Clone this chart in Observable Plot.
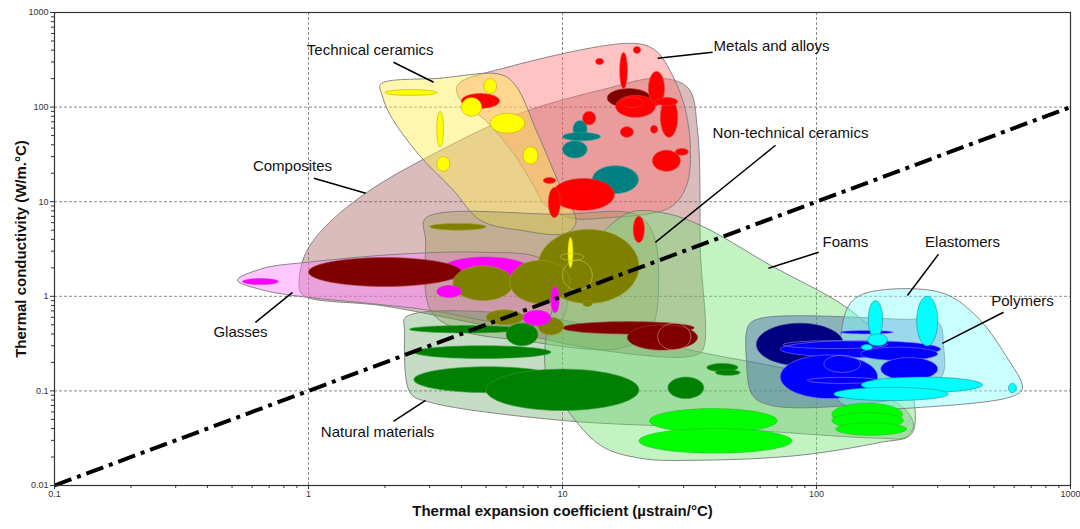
<!DOCTYPE html>
<html><head><meta charset="utf-8">
<script src="https://cdn.jsdelivr.net/npm/d3@7"></script>
<script src="https://cdn.jsdelivr.net/npm/@observablehq/plot@0.6"></script>
<style>body{margin:0;background:#fff;}</style>
</head><body><div id="chart"></div>
<script>
// ---------- Axis ticks ----------
const xTickValues = [0.1, 1, 10, 100, 1000];
const xTickLabels = ["0.1", "1", "10", "100", "1000"];
const yTickValues = [0.01, 0.1, 1, 10, 100, 1000];
const yTickLabels = ["0.01", "0.1", "1", "10", "100", "1000"];
const xGrid = [1, 10, 100];
const yGrid = [0.1, 1, 10, 100];

// ---------- Guide line (k / alpha = 0.1) ----------
const guideX = [0.1, 1000];
const guideY = [0.01, 100];

// ---------- Family envelopes: [expansion, conductivity] ----------
const compositesEnvelope = [[0.93,1.10],[0.95,2.40],[1.11,4.75],[1.68,12.3],[3.31,34.9],[6.83,86],[14.1,151],[24.3,202],[31.3,158],[34.0,56.9],[34.9,3.06],[35.6,0.27],[31.9,0.232],[14.1,0.27],[4.34,0.53],[1.92,0.80],[1.02,0.95]];
const techCeramicsEnvelope = [[1.92,174],[3.31,202],[5.70,222],[6.53,170],[7.97,52.8],[9.83,14.2],[11.3,6.06],[10.3,4.63],[6.83,4.99],[4.75,6.36],[3.72,13.2],[2.69,32.5],[2.10,81.9],[1.95,133]];
const metalsEnvelope = [[3.86,170],[6.07,264],[19.0,472],[23.2,398],[27.1,217],[30.5,92.5],[31.9,34.9],[30.8,14.9],[26.6,8.73],[14.1,6.68],[11.0,6.68],[8.73,8.73],[7.48,16.8],[6.41,32.5],[4.97,72.5],[3.97,118]];
const glassesEnvelope = [[0.525,1.48],[0.665,1.98],[0.99,2.29],[2.24,2.78],[4.75,2.92],[8.19,2.52],[10.3,1.31],[9.83,0.557],[6.83,0.49],[3.02,0.71],[1.60,0.86],[0.99,0.976],[0.665,1.16]];
const nonTechCeramicsEnvelope = [[2.89,6.68],[9.83,7.36],[19.4,7.36],[22.6,4.75],[23.9,1.48],[22.2,0.437],[16.9,0.282],[6.83,0.343],[3.97,0.437],[3.02,0.71],[2.89,3.91]];
const naturalEnvelope = [[2.41,0.60],[7.48,0.63],[34.9,0.256],[86.5,0.157],[214,0.0705],[241,0.0433],[224,0.0323],[179,0.0316],[41.9,0.0402],[9.83,0.0489],[3.02,0.0757],[2.52,0.0944],[2.39,0.437]];
const foamsEnvelope = [[18.5,7.73],[25.4,7.54],[34.9,5.63],[65.9,2.13],[136,0.71],[214,0.21],[245,0.055],[234,0.034],[179,0.0286],[86.5,0.0209],[34.9,0.0185],[20.3,0.0194],[14.1,0.0266],[9.83,0.0796],[8.57,0.165],[9.38,0.907],[13.5,3.91]];
const polymersEnvelope = [[54,0.49],[60.2,0.585],[214,0.571],[302,0.53],[316,0.303],[313,0.146],[257,0.0966],[136,0.0705],[65.9,0.0705],[56,0.0898],[53,0.21]];
const elastomersEnvelope = [[134,0.80],[156,1.08],[308,1.10],[423,0.63],[555,0.238],[647,0.106],[591,0.0877],[257,0.067],[149,0.0655],[122,0.0796],[124,0.343]];

// ---------- Material ellipses: [xmin, xmax, ymin, ymax] ----------
const glassesBack = [[0.55,0.76,1.33,1.54],[3.3,7.5,1.36,2.6]];
const compositesEllipses = [[1.0,4.0,1.27,2.57],[10,33,0.40,0.54],[18,34,0.27,0.50]];
const nonTechCeramicsEllipses = [[3.0,5.0,5.0,5.9],[8.0,20,0.84,5.1],[3.7,6.4,0.9,2.1],[6.2,10.7,0.84,2.4],[12,13.1,0.78,0.9],[5.0,7.0,0.5,0.72],[8.0,10.1,0.39,0.6]];
const glassesFront = [[3.2,4.0,0.97,1.3],[9.0,9.7,0.67,1.27],[7.0,9.0,0.49,0.71]];
const metalsTeal = [[11,12.5,48,72],[10,12.5,29,44],[10,14.1,44,54],[13.1,19.9,12.2,24]];
const metalsDark = [[15,22.2,99,157]];
const metalsRed = [[13.5,14.5,282,327],[19,20.3,369,437],[16.8,18,157,378],[21.8,25.2,104,238],[16.2,23.2,78,133],[17,20.8,99,126],[24.3,28.4,48,126],[23.2,28.4,104,126],[12,13.5,65,90],[16.9,19,48,62],[22.2,23.7,53,64],[22.6,29.1,21,35],[27.8,31.3,31,36.5],[9.1,16,8.1,17.6],[8.8,9.8,6.8,14.1],[8.4,9.4,15.6,18],[4.0,5.65,97,139],[19,21,3.7,7.0]];
const techCeramicsEllipses = [[2.0,3.2,133,153],[3.2,3.4,38,90],[3.2,3.6,21,30],[4.0,4.8,80,126],[4.9,5.5,139,200],[5.2,7.1,53,86],[7.0,8.0,25,38],[10.5,11,2.0,4.2]];
const naturalEllipses = [[2.5,7.0,0.41,0.49],[6.0,8.0,0.30,0.52],[2.6,9.0,0.22,0.30],[2.6,10,0.096,0.18],[5.0,20,0.062,0.17],[26,36,0.083,0.14],[37,49,0.16,0.195],[40,50,0.146,0.167]];
const foamsEllipses = [[22,70,0.036,0.065],[20,80,0.022,0.040],[115,218,0.043,0.074],[115,220,0.040,0.059],[119,226,0.034,0.046]];
const polymersNavy = [[58,128,0.185,0.52]];
const polymersBlue = [[72,308,0.225,0.34],[149,300,0.21,0.29],[72,174,0.083,0.24],[179,300,0.13,0.225],[124,200,0.40,0.435]];
const elastomersEllipses = [[160,182,0.36,0.90],[248,300,0.30,1.0],[159,190,0.30,0.40],[150,166,0.27,0.31],[570,612,0.096,0.12],[150,450,0.096,0.14],[117,330,0.079,0.109]];
// outline-only ranges
const compositesOutlines = [[23.7,32,0.27,0.52]];
const ceramicsOutlines = [[9.8,12.1,2.4,2.85],[10,13.1,1.16,2.4]];
const polymersOutlines = [[74,190,0.28,0.34],[107,149,0.157,0.238],[92,174,0.12,0.139]];

// ---------- Family labels and leader lines ----------
const labelText = ["Technical ceramics","Metals and alloys","Non-technical ceramics","Composites","Foams","Elastomers","Polymers","Glasses","Natural materials"];
const labelX = [1.75, 66.5, 79, 0.865, 130, 376, 647, 0.54, 1.87];
const labelY = [398, 439, 52.8, 23.7, 3.72, 3.72, 0.885, 0.416, 0.0365];
const leaderX1 = [2.16, 39.0, 69, 1.05, 102, 302, 545, 0.618, 2.16];
const leaderY1 = [298, 380, 39.5, 17.7, 2.92, 2.78, 0.678, 0.53, 0.0477];
const leaderX2 = [3.11, 23.7, 23.2, 1.68, 64.7, 228, 313, 0.865, 2.89];
const leaderY2 = [183, 328, 3.72, 12.3, 1.98, 1.02, 0.318, 1.10, 0.0796];

// ---------- helpers ----------
let uid = 0;
function ellipsePoints(list) {
  const pts = [];
  list.forEach((e) => {
    const id = uid++;
    const [a, b, c, d] = e.map(Math.log10);
    const cx = (a + b) / 2, cy = (c + d) / 2, rx = (b - a) / 2, ry = (d - c) / 2;
    for (let k = 0; k < 72; k++) {
      const t = 2 * Math.PI * k / 72;
      pts.push({id, x: 10 ** (cx + rx * Math.cos(t)), y: 10 ** (cy + ry * Math.sin(t))});
    }
  });
  return pts;
}
function ellipses(list, fill, stroke, sw = 0.6) {
  return Plot.line(ellipsePoints(list), {x: "x", y: "y", z: "id", fill, stroke, strokeWidth: sw, curve: "linear-closed"});
}
function envelope(verts, fill, op) {
  return Plot.line(verts.map(([x, y]) => ({x, y})), {x: "x", y: "y", fill, fillOpacity: op, stroke: "#7a7a7a", strokeWidth: 0.9, curve: "catmull-rom-closed"});
}
const xMinor = [], yMinor = [];
[0.1, 1, 10, 100].forEach(d => { for (let m = 2; m < 10; m++) xMinor.push(d * m); });
[0.01, 0.1, 1, 10, 100].forEach(d => { for (let m = 2; m < 10; m++) yMinor.push(d * m); });

const labels = labelText.map((t, i) => ({t, x: labelX[i], y: labelY[i]}));
const leaders = labelText.map((t, i) => ({x1: leaderX1[i], y1: leaderY1[i], x2: leaderX2[i], y2: leaderY2[i]}));

const chart = Plot.plot({
  width: 1080, height: 529,
  marginLeft: 54, marginRight: 10, marginTop: 12, marginBottom: 44,
  style: {fontFamily: "'Liberation Sans', Arial, sans-serif", background: "#fff"},
  x: {type: "log", domain: [0.1, 1000]},
  y: {type: "log", domain: [0.01, 1000]},
  marks: [
    Plot.gridX(xGrid, {stroke: "#8a8a8a", strokeOpacity: 1, strokeDasharray: "3,2"}),
    Plot.gridY(yGrid, {stroke: "#8a8a8a", strokeOpacity: 1, strokeDasharray: "3,2"}),
    // envelopes
    envelope(compositesEnvelope, "#a05050", 0.38),
    envelope(metalsEnvelope, "#ff7070", 0.42),
    envelope(techCeramicsEnvelope, "#ffee50", 0.45),
    envelope(glassesEnvelope, "#ff80ff", 0.45),
    envelope(nonTechCeramicsEnvelope, "#8a8a3a", 0.3),
    envelope(naturalEnvelope, "#5a9a5a", 0.35),
    envelope(foamsEnvelope, "#70e070", 0.42),
    envelope(polymersEnvelope, "#4060b0", 0.42),
    envelope(elastomersEnvelope, "#80ffff", 0.42),
    // ellipses
    ellipses(glassesBack, "#ff00ff", "#c040c0"),
    ellipses(compositesEllipses, "#800000", "#a04040"),
    ellipses(nonTechCeramicsEllipses, "#808000", "#a0a030"),
    ellipses(glassesFront, "#ff00ff", "#c040c0"),
    ellipses(metalsTeal, "#008080", "#40a0a0"),
    ellipses(metalsDark, "#800000", "#a04040"),
    ellipses(metalsRed, "#ff0000", "#e04040"),
    ellipses(techCeramicsEllipses, "#ffff00", "#b0b000"),
    ellipses(naturalEllipses, "#008000", "#3a9a3a"),
    ellipses(foamsEllipses, "#00ff00", "#20c020"),
    ellipses(polymersNavy, "#000080", "#4040a0"),
    ellipses(polymersBlue, "#0000ff", "#8a70ff"),
    ellipses(compositesOutlines, "none", "#e0a0a0"),
    ellipses(ceramicsOutlines, "none", "#c8c860"),
    ellipses(polymersOutlines, "none", "#9a80ff"),
    ellipses(elastomersEllipses, "#00ffff", "#109090"),
    // guide line
    Plot.line(guideX.map((x, i) => ({x, y: guideY[i]})), {x: "x", y: "y", stroke: "#000", strokeWidth: 4, strokeDasharray: "18,6,4,6", strokeLinecap: "butt"}),
    // leaders and labels
    Plot.link(leaders, {x1: "x1", y1: "y1", x2: "x2", y2: "y2", stroke: "#000", strokeWidth: 1.5}),
    Plot.text(labels, {x: "x", y: "y", text: "t", fontSize: 15, fill: "#111"}),
    // axes
    Plot.axisX(xMinor, {tickSize: 3, tickFormat: () => "", stroke: "#333"}),
    Plot.axisY(yMinor, {tickSize: 3, tickFormat: () => "", stroke: "#333"}),
    Plot.axisX(xTickValues, {tickSize: 4, tickPadding: 1, tickFormat: (d) => xTickLabels[xTickValues.indexOf(d)], fontSize: 9, fill: "#333", stroke: "#333", label: null}),
    Plot.axisY(yTickValues, {tickSize: 4, tickPadding: 2, tickFormat: (d) => yTickLabels[yTickValues.indexOf(d)], fontSize: 9, fill: "#333", stroke: "#333", label: null}),
    Plot.text(["Thermal expansion coefficient (µstrain/°C)"], {text: d => d, frameAnchor: "bottom", textAnchor: "middle", lineAnchor: "middle", dy: 26, fontSize: 15, fontWeight: "bold", fill: "#111"}),
    Plot.text(["Thermal conductivity (W/m.°C)"], {text: d => d, frameAnchor: "left", textAnchor: "middle", lineAnchor: "middle", dx: -33, rotate: -90, fontSize: 15, fontWeight: "bold", fill: "#111"}),
    Plot.frame({stroke: "#333", strokeWidth: 1.2})
  ]
});
document.getElementById("chart").appendChild(chart);
</script>
</body></html>
